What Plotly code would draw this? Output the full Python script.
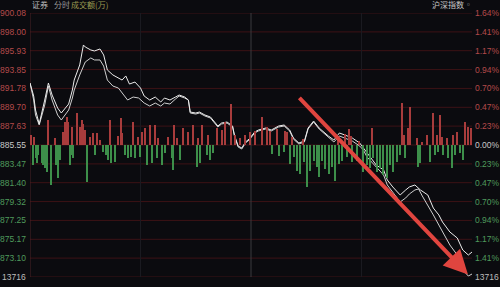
import plotly.graph_objects as go

# ---------------- data ----------------
price_labels = ["900.08", "898.00", "895.93", "893.85", "891.78", "889.70", "887.63",
                "885.55", "883.47", "881.40", "879.32", "877.25", "875.17", "873.10"]
pct_labels = ["1.64%", "1.41%", "1.17%", "0.94%", "0.70%", "0.47%", "0.23%",
              "0.00%", "0.23%", "0.47%", "0.70%", "0.94%", "1.17%", "1.41%"]
bottom_label = "13716"
prev_close = 885.55
price_min = 871.02
price_max = 900.08

# index line 1 (minutes since open, price)
t1 = [0, 2, 3, 5, 8, 10, 12, 15, 17, 19, 21, 23, 24, 27, 29, 30, 33, 35, 38, 40, 42, 45, 48, 50,
      52, 54, 57, 60, 62, 65, 68, 71, 73, 76, 79, 81, 84, 86, 87, 90, 92, 95, 98, 100, 102, 104,
      107, 110, 111, 113, 115, 117, 119, 122, 124, 128, 131, 135, 138, 141, 143, 146, 149, 151,
      154, 157, 160, 162, 165, 168, 171, 175, 179, 181, 183, 186, 188, 192, 194, 197, 201, 204,
      206, 209, 212, 216, 219, 222, 224, 228, 232, 235, 238, 240]
p1 = [892.37, 890.94, 889.40, 887.86, 890.50, 892.37, 891.05, 889.62, 889.07, 889.62, 890.06,
      891.60, 892.70, 894.36, 896.56, 896.34, 896.01, 895.90, 896.12, 895.46, 893.81, 893.26,
      892.93, 892.70, 893.15, 892.26, 892.48, 891.82, 890.94, 890.50, 890.83, 890.28, 890.72,
      890.50, 890.83, 891.05, 890.83, 890.50, 889.18, 889.07, 889.18, 888.85, 888.63, 888.08,
      887.64, 887.97, 888.08, 887.64, 886.65, 885.44, 885.22, 885.88, 886.21, 886.98, 887.20,
      887.42, 887.20, 887.64, 887.75, 887.20, 886.32, 885.77, 885.99, 887.42, 888.19, 887.42,
      886.87, 886.54, 886.10, 886.87, 886.65, 886.32, 885.77, 885.22, 884.67, 883.90, 883.35,
      882.80, 881.70, 880.93, 880.05, 880.60, 880.93, 881.15, 880.60, 880.05, 878.61, 877.85,
      877.07, 875.97, 875.31, 873.99, 873.44, 873.77]

# index line 2
t2 = [0, 2, 3, 5, 8, 10, 12, 15, 17, 19, 21, 23, 24, 27, 30, 33, 35, 38, 40, 42, 45, 48, 51, 53,
      56, 59, 62, 65, 68, 71, 73, 76, 79, 81, 84, 86, 87, 90, 92, 95, 98, 100, 102, 104, 107,
      110, 111, 113, 115, 117, 119, 122, 124, 128, 131, 135, 138, 141, 143, 146, 149, 151, 154,
      157, 160, 162, 165, 168, 171, 175, 179, 181, 183, 186, 188, 192, 194, 197, 201, 204, 206,
      209, 211, 213, 216, 219, 222, 224, 228, 232, 235, 238, 240]
p2 = [892.37, 890.50, 888.85, 887.75, 889.95, 892.04, 890.50, 888.85, 888.30, 888.85, 889.40,
      890.72, 891.60, 893.26, 894.69, 895.13, 894.91, 894.91, 894.24, 892.70, 892.04, 891.82,
      891.05, 890.50, 890.83, 890.72, 890.17, 889.84, 890.17, 889.84, 890.17, 890.06, 890.61,
      890.94, 890.72, 890.50, 889.07, 888.96, 889.07, 888.74, 888.52, 887.97, 887.53, 887.86,
      887.97, 887.53, 886.54, 885.33, 885.11, 885.77, 886.10, 886.87, 887.09, 887.31, 887.09,
      887.53, 887.64, 887.09, 886.21, 885.66, 885.88, 887.31, 888.08, 887.31, 886.76, 886.32,
      885.88, 886.54, 886.32, 885.99, 885.44, 885.00, 884.23, 883.57, 883.02, 882.25, 881.15,
      880.38, 879.28, 879.72, 880.16, 880.60, 880.71, 879.94, 878.95, 877.85, 876.74, 875.97,
      874.54, 873.44, 871.79, 871.13, 871.35]

# signed amount bars (minutes since open, value; + red, - green)
bar_t = [0.5, 1.6, 2.2, 3.3, 3.8, 4.3, 6.5, 7.1, 8.1, 9.2, 9.8, 11.4, 13.6, 14.1, 15.2, 16.3,
         17.9, 19.0, 20.1, 20.6, 21.7, 22.3, 22.8, 23.3, 25.5, 27.1, 28.2, 28.8, 29.9, 31.0,
         32.6, 34.2, 35.3, 36.4, 38.0, 39.6, 41.3, 42.4, 43.4, 44.0, 46.2, 47.8, 49.4, 50.0,
         51.6, 53.2, 54.8, 55.9, 57.0, 58.6, 59.7, 60.8, 62.4, 63.5, 65.2, 66.2, 67.9, 69.0,
         69.5, 71.7, 73.3, 74.9, 77.1, 77.6, 78.2, 79.8, 81.5, 83.1, 85.8, 88.5, 90.7, 91.2,
         92.3, 93.4, 96.1, 96.7, 97.7, 99.4, 101.5, 104.3, 105.9, 109.1, 111.3, 114.0, 116.7,
         119.5, 122.2, 126.0, 128.7, 130.3, 131.4, 134.1, 135.2, 137.9, 138.5, 139.6, 141.2,
         142.3, 143.4, 145.0, 146.6, 148.2, 148.8, 150.4, 152.0, 154.2, 155.8, 156.9, 158.6,
         160.2, 162.4, 164.0, 165.6, 167.2, 167.8, 169.4, 171.0, 172.1, 173.2, 174.3, 174.8,
         177.6, 178.6, 180.8, 183.0, 184.6, 185.7, 186.2, 188.4, 190.1, 191.7, 193.9, 195.5,
         197.1, 199.3, 200.9, 202.0, 203.1, 203.6, 205.3, 206.3, 210.1, 210.7, 211.8, 212.9,
         215.6, 217.2, 218.8, 219.9, 221.0, 221.5, 222.6, 223.7, 224.3, 226.4, 227.0, 229.2,
         229.7, 230.8, 231.9, 233.5, 235.1, 236.2, 237.8, 239.5]
bar_v = [10, -20, 8, -13, -18, -10, -18, -20, -23, -27, 25, -40, 7, -20, -33, -15,
         13, 23, 28, 23, -20, -10, 18, -13, 32, 18, 25, 21, 15, -37,
         8, 12, -10, 12, 5, -7, -10, -15, 25, -18, -17, 9, 27, 12,
         -10, -13, -12, 23, -13, 8, -12, 13, 17, -20, 20, -18, 20, -13,
         7, -20, -8, 8, -13, -25, 20, 7, -15, 17, 13, 20, -22, 7,
         -18, 20, -10, 10, -15, -8, 17, 15, 23, 41, 10, 7, 10,
         13, 14, 28, 18, 14, -9, 16, -11, -7, 14, 13, -19,
         8, -12, -26, -29, 6, -17, -42, -26, -16, -22, -32, -16,
         -24, -29, -22, -36, 8, -19, -16, 11, -12, 16, 9, -17,
         -16, 4, -27, -20, -23, 17, -13, -27, -23, -30, -33, -20,
         -27, -17, -10, 42, 10, -13, 17, 38, 7, -22, -18, 3,
         10, -17, 32, -10, 10, -7, 30, 8, -10, 7, -13, -23,
         10, -10, 13, -8, -15, 23, 18, 17]

# ---------------- styling ----------------
BG = "#0b0b0f"
GRID = "#3d1216"
RED_TXT = "#b44a4a"
GREEN_TXT = "#4f9a5c"
MID_TXT = "#c8c8c8"
FONT = "Liberation Sans, Arial, sans-serif"
CJK = "Noto Sans CJK SC, sans-serif"

fig = go.Figure()

bar_colors = ["#a83c3c" if v > 0 else "#3d8f4a" for v in bar_v]
fig.add_trace(go.Bar(x=bar_t, y=bar_v, marker=dict(color=bar_colors, line=dict(width=0)),
                     width=0.45, yaxis="y2", hoverinfo="skip"))

fig.add_trace(go.Scatter(x=t2, y=p2, mode="lines", line=dict(color="#cfcfcf", width=1),
                         hoverinfo="skip"))
fig.add_trace(go.Scatter(x=t1, y=p1, mode="lines", line=dict(color="#ececec", width=1),
                         hoverinfo="skip"))

tick_vals = [float(s) for s in price_labels] + [price_min]

shapes = []
for v in tick_vals:
    shapes.append(dict(type="line", xref="paper", x0=0, x1=1, yref="y", y0=v, y1=v,
                       line=dict(color=GRID, width=1), layer="below"))
for xv, col in [(0, "#4a2226"), (60, "#1a1a20"), (120, "#3a3a3e"), (180, "#1a1a20")]:
    shapes.append(dict(type="line", xref="x", x0=xv, x1=xv, yref="paper", y0=0, y1=1,
                       line=dict(color=col, width=1), layer="below"))

annotations = []
mid = price_labels.index(f"{prev_close:.2f}")
for i, (pl, pc) in enumerate(zip(price_labels, pct_labels)):
    col = RED_TXT if i < mid else (MID_TXT if i == mid else GREEN_TXT)
    annotations.append(dict(xref="paper", x=0, yref="y", y=float(pl), text=pl, showarrow=False,
                            xanchor="right", xshift=-2, font=dict(family=FONT, size=8.5, color=col)))
    annotations.append(dict(xref="paper", x=1, yref="y", y=float(pl), text=pc, showarrow=False,
                            xanchor="left", xshift=1, font=dict(family=FONT, size=8.5, color=col)))
for xp, anc, sh in [(0, "right", -2), (1, "left", 1)]:
    annotations.append(dict(xref="paper", x=xp, yref="y", y=price_min, text=bottom_label,
                            showarrow=False, xanchor=anc, xshift=sh,
                            font=dict(family=FONT, size=8.5, color="#bdbdbd")))

# header texts
annotations += [
    dict(xref="paper", yref="paper", x=0, y=1, yshift=1, text="证券", showarrow=False,
         xanchor="left", yanchor="bottom", font=dict(family=CJK, size=8, color="#bdbdbd")),
    dict(xref="paper", yref="paper", x=0.05, y=1, yshift=1, text="分时", showarrow=False,
         xanchor="left", yanchor="bottom", font=dict(family=CJK, size=8, color="#9a9a9a")),
    dict(xref="paper", yref="paper", x=0.088, y=1, yshift=1, text="成交额(万)", showarrow=False,
         xanchor="left", yanchor="bottom", font=dict(family=CJK, size=8, color="#9c9c52")),
    dict(xref="paper", yref="paper", x=0.904, y=1, yshift=1, text="沪深指数", showarrow=False,
         xanchor="left", yanchor="bottom", font=dict(family=CJK, size=8, color="#c8c8c8")),
    dict(xref="paper", yref="paper", x=0.985, y=1, yshift=2, text="▫", showarrow=False,
         xanchor="left", yanchor="bottom", font=dict(family=FONT, size=8, color="#9a9a9a")),
]

# red arrow overlay
annotations.append(dict(x=237.8, y=871.3, xref="x", yref="y", ax=145.5, ay=890.9, axref="x",
                        ayref="y", text="", showarrow=True, arrowhead=2, arrowsize=1.2,
                        arrowwidth=4, arrowcolor="#e0453f"))

fig.update_layout(
    width=500, height=287,
    margin=dict(l=30, r=28, t=13, b=10),
    paper_bgcolor=BG, plot_bgcolor=BG,
    showlegend=False,
    bargap=0,
    xaxis=dict(range=[0, 240], showgrid=False, zeroline=False, showticklabels=False,
               showline=False, fixedrange=True),
    yaxis=dict(range=[price_min, price_max], showgrid=False, zeroline=False,
               showticklabels=False, showline=False),
    yaxis2=dict(range=[-132, 132], overlaying="y", showgrid=False, zeroline=False,
                showticklabels=False, showline=False),
    shapes=shapes,
    annotations=annotations,
)

fig.write_html("out.html")
